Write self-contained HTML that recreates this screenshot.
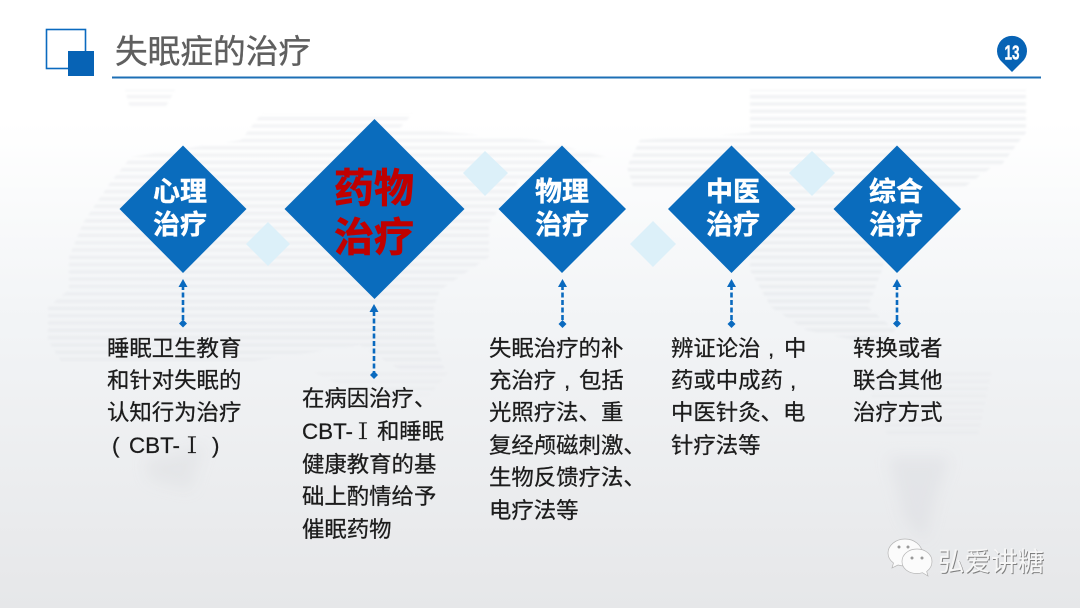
<!DOCTYPE html>
<html lang="zh"><head><meta charset="utf-8"><title>失眠症的治疗</title>
<style>
html,body{margin:0;padding:0;width:1080px;height:608px;overflow:hidden;background:#fff}
svg{display:block}
text{font-family:"Liberation Sans","Noto Sans CJK SC",sans-serif}
.b{font-size:22.4px;fill:#1c1c1c;stroke:#1c1c1c;stroke-width:.25px}
.i{font-family:"Noto Serif CJK SC","Liberation Serif",serif;font-size:22.4px;fill:#1c1c1c;stroke:#1c1c1c;stroke-width:.25px;text-anchor:middle}
.w{font-size:27px;font-weight:700;fill:#fff;stroke:#fff;stroke-width:.4px;text-anchor:middle}
.r{font-size:40px;font-weight:700;fill:#c00000;stroke:#c00000;stroke-width:.7px;text-anchor:middle}
</style></head><body>
<svg width="1080" height="608" viewBox="0 0 1080 608" xmlns="http://www.w3.org/2000/svg">
<defs>
<linearGradient id="bg" x1="0" y1="0" x2="0" y2="1">
<stop offset="0" stop-color="#ffffff"/><stop offset=".2" stop-color="#ffffff"/><stop offset=".5" stop-color="#f3f5f7"/><stop offset="1" stop-color="#e6e7e9"/>
</linearGradient>
<pattern id="st" width="9" height="7.300" patternUnits="userSpaceOnUse">
<rect width="9" height="3.600" fill="#dfe2e6"/>
</pattern>
<filter id="bl"><feGaussianBlur stdDeviation="1"/></filter>
<filter id="bl2"><feGaussianBlur stdDeviation="7"/></filter>
</defs>
<rect width="1080" height="608" fill="url(#bg)"/>
<g fill="url(#st)" opacity=".42" filter="url(#bl)">
<path d="M125 90H175L165 108H130ZM262 113H413L400 128 537 140 606 157 520 180 489 223 489 257 440 290 434 307 434 340 445 370H400L360 345 241 363H62L48 340 48 307 69 290 69 257 83 223 110 183 131 157 241 140Z" opacity=".85"/>
<path d="M310 370H450L430 395 370 400Z" opacity=".5"/>
<path d="M750 90H1026V133L1020 140 1000 167 992 167 960 190 895 190 895 223 882 270 868 307 895 330 880 345 806 330 771 307 750 270 750 223 700 190 634 190 627 167 640 140 750 133Z"/>
<path d="M861 370H992L978 437H888Z" opacity=".5"/>
</g>
<g fill="#d4d7dc" filter="url(#bl2)">
<path d="M145 460L205 445 190 490 150 480Z" opacity=".3"/>
<path d="M888 457H950L935 500 925 540 905 520Z" opacity=".35"/>
</g>

<!-- header -->
<rect x="46.500" y="29.500" width="39" height="39" fill="#fff" stroke="#0a6abf" stroke-width="1.600"/>
<rect x="68" y="51" width="26" height="25" fill="#0763b5"/>
<text x="115" y="63" font-size="32.700" fill="#5f5f5f" stroke="#5f5f5f" stroke-width=".35">失眠症的治疗</text>
<rect x="112" y="76.500" width="929" height="2" fill="#1d6fb5"/>
<path d="M1012 72 L1002 62 A15 15 0 1 1 1022 62 Z" fill="#0763b5"/>
<text x="1012" y="59.500" font-size="20" font-weight="700" fill="#fff" stroke="#fff" stroke-width=".4" text-anchor="middle" textLength="15" lengthAdjust="spacingAndGlyphs">13</text>

<!-- light diamonds -->
<g fill="#dcf0f9">
<path d="M268 222L290 244 268 266 246 244Z"/>
<path d="M485 151L508 173 485 196 463 173Z"/>
<path d="M653 221L676 244 653 267 630 244Z"/>
<path d="M812 151L835 173 812 196 789 173Z"/>
</g>

<!-- main diamonds -->
<g fill="#0a6cbd">
<path d="M183 145.500L246.500 209 183 273 119.500 209Z"/>
<path d="M374.500 119L464.500 209 374.500 299 284.500 209Z"/>
<path d="M562 145.500L626 209 562 273 498.500 209Z"/>
<path d="M731.500 145.500L795.500 209 731.500 273 668 209Z"/>
<path d="M897 145.500L961 209 897 273 833.500 209Z"/>
</g>
<g>
<text class="w" x="180" y="201">心理</text><text class="w" x="180" y="234">治疗</text>
<text class="r" x="374" y="202">药物</text><text class="r" x="374" y="251">治疗</text>
<text class="w" x="562" y="201">物理</text><text class="w" x="562" y="234">治疗</text>
<text class="w" x="733" y="201">中医</text><text class="w" x="733" y="234">治疗</text>
<text class="w" x="896" y="201">综合</text><text class="w" x="896" y="234">治疗</text>
</g>

<!-- arrows -->
<g stroke="#0a6abf" stroke-width="2.600" stroke-dasharray="5 2.500" fill="none">
<path d="M183 285V323"/><path d="M374 311V374"/><path d="M562.500 285V324"/><path d="M731.500 285V324"/><path d="M897 285V323"/>
</g>
<g fill="#0a6abf">
<path d="M183 279l-4.500 8h9Z"/><path d="M183 319.500l4 4-4 4-4-4Z"/>
<path d="M374 304l-4.500 8h9Z"/><path d="M374 371l4 4-4 4-4-4Z"/>
<path d="M562.500 279l-4.500 8h9Z"/><path d="M562.500 320l4 4-4 4-4-4Z"/>
<path d="M731.500 279l-4.500 8h9Z"/><path d="M731.500 320l4 4-4 4-4-4Z"/>
<path d="M897 279l-4.500 8h9Z"/><path d="M897 319.500l4 4-4 4-4-4Z"/>
</g>

<!-- body text -->
<g>
<text class="b" x="107" y="356">睡眠卫生教育</text>
<text class="b" x="107" y="388">和针对失眠的</text>
<text class="b" x="107" y="420">认知行为治疗</text>
<text class="b" x="112" y="453">(</text><text class="b" x="129" y="453">CBT-</text><text class="i" x="192" y="453">Ⅰ</text><text class="b" x="212" y="453">)</text>

<text class="b" x="302" y="406">在病因治疗、</text>
<text class="b" x="302" y="439">CBT-</text><text class="i" x="363" y="439">Ⅰ</text><text class="b" x="377" y="439" textLength="67">和睡眠</text>
<text class="b" x="302" y="472">健康教育的基</text>
<text class="b" x="302" y="504">础上酌情给予</text>
<text class="b" x="302" y="537">催眠药物</text>

<text class="b" x="489" y="356">失眠治疗的补</text>
<text class="b" x="489" y="388">充治疗</text><text class="b" x="564" y="388">,</text><text class="b" x="579" y="388">包括</text>
<text class="b" x="489" y="420">光照疗法、重</text>
<text class="b" x="489" y="453">复经颅磁刺激、</text>
<text class="b" x="489" y="485">生物反馈疗法、</text>
<text class="b" x="489" y="518">电疗法等</text>

<text class="b" x="671" y="356">辨证论治</text><text class="b" x="768" y="356">,</text><text class="b" x="784" y="356">中</text>
<text class="b" x="671" y="388">药或中成药</text><text class="b" x="790" y="388">,</text>
<text class="b" x="671" y="420">中医针灸、电</text>
<text class="b" x="671" y="453">针疗法等</text>

<text class="b" x="853" y="356">转换或者</text>
<text class="b" x="853" y="388">联合其他</text>
<text class="b" x="853" y="420">治疗方式</text>
</g>

<!-- watermark -->
<g fill="#fbfbfb" stroke="#b5b5b5" stroke-width=".7">
<path d="M905 539c-9.500 0-17 6.500-17 14 0 4 2 7.500 5.500 10l-1.500 5 6-3c2.500.7 4.500 1 7 1 9.500 0 17-6.500 17-13.500S914.500 539 905 539Z"/>
<path d="M917 549c-8.500 0-15 5.500-15 12.500s6.500 12 15 12c2 0 3.500-.2 5.500-.8l5.500 3.300-1.300-4.500c3.300-2.500 5.300-6 5.300-10 0-6.900-6.500-12.500-15-12.500Z"/>
</g>
<g fill="#9a9a9a"><circle cx="899" cy="547" r="1.500"/><circle cx="908" cy="547" r="1.500"/><circle cx="912" cy="558" r="1.500"/><circle cx="922" cy="558" r="1.500"/></g>
<text x="938" y="571" font-size="26.500" fill="#7f7f7f" transform="translate(.9 .9)">弘爱讲糖</text>
<text x="938" y="571" font-size="26.500" fill="#f6f6f6">弘爱讲糖</text>
</svg>
</body></html>
